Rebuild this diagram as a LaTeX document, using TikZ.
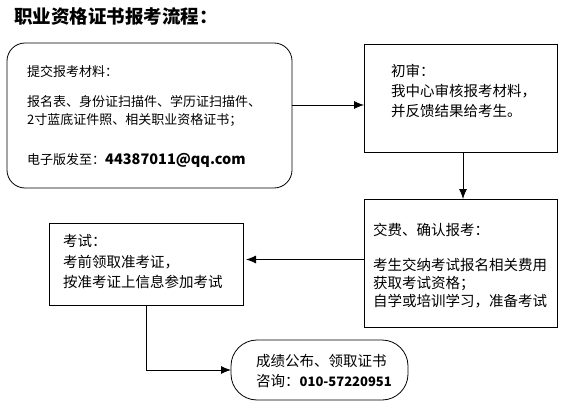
\documentclass[tikz,border=0pt]{standalone}
\usepackage{fontspec}
\setmainfont{Noto Sans CJK SC}
\usetikzlibrary{arrows.meta}

\begin{document}
\begin{tikzpicture}[x=1pt, y=-1pt,
			kasten/.style={draw, line width=0.8pt, inner sep=0pt, outer sep=0pt},
			rundkasten/.style={kasten, rounded corners=#1},
			txt/.style={anchor=north west, align=left, inner sep=0pt, font=\fontsize{14.5}{20.5}\selectfont},
			>={Latex[length=10pt,width=8pt]},   %Voreinstellung für Pfeilspitzen
			pfeil/.style={->, line width=0.8pt}]
			%Bildbereich festlegen
			\useasboundingbox (0,0) rectangle (565,409);
			% Titel
			\node[anchor=west, inner sep=0pt, font=\fontsize{18.5}{22}\selectfont\bfseries] (titel) at (14,16) {职业资格证书报考流程：};
			% Kästen zeichnen
			\node[rundkasten=18pt, minimum width=285pt, minimum height=145pt] (antrag) at (149.5,115.5) {};
			\node[kasten, minimum width=193pt, minimum height=108pt] (pruefung) at (460.5,98) {};
			\node[kasten, minimum width=193pt, minimum height=128pt] (gebuehr) at (460.5,263) {};
			\node[kasten, minimum width=194pt, minimum height=82pt] (examen) at (146,264) {};
			\node[rundkasten=26pt, minimum width=177pt, minimum height=60pt] (ergebnis) at (319.5,370) {};
			% Texte
			\node[txt, font=\fontsize{13}{18}\selectfont] (antragtext) at (27,65.5) {提交报考材料：\\[12pt]
				报名表、身份证扫描件、学历证扫描件、\\
				2寸蓝底证件照、相关职业资格证书；\\[22pt]
				电子版发至：{\fontsize{14.5}{18}\selectfont\bfseries 44387011@qq.com}};
			\node[txt, font=\fontsize{14.5}{20}\selectfont] (pruefungtext) at (391,64.5) {初审：\\ 我中心审核报考材料，\\ 并反馈结果给考生。};
			\node[txt, font=\fontsize{14.5}{18}\selectfont] (gebuehrtext) at (373,222.5) {交费、确认报考：\\[17pt]
				考生交纳考试报名相关费用\\ 获取考试资格；\\ 自学或培训学习，准备考试};
			\node[txt] (examentext) at (63,234.5) {考试：\\ 考前领取准考证，\\ 按准考证上信息参加考试};
			\node[txt, font=\fontsize{14.5}{20}\selectfont] (ergebnistext) at (256,354.5) {成绩公布、领取证书\\ 咨询：{\fontsize{13}{20}\selectfont\bfseries 010-57220951}};
			% Pfeile zeichnen
			\draw[pfeil] ([yshift=10.5pt]antrag.east) -- ([yshift=10.5pt]antrag.east -| pruefung.west);
			\draw[pfeil] ([xshift=2.5pt]pruefung.south) -- ([xshift=2.5pt]gebuehr.north);
			\draw[pfeil, shorten >=3pt] ([yshift=3.5pt]gebuehr.west) -- ([yshift=3.5pt]gebuehr.west -| examen.east);
			\draw[pfeil] (examen.south) |- (ergebnis.west);
		\end{tikzpicture}
\end{document}
